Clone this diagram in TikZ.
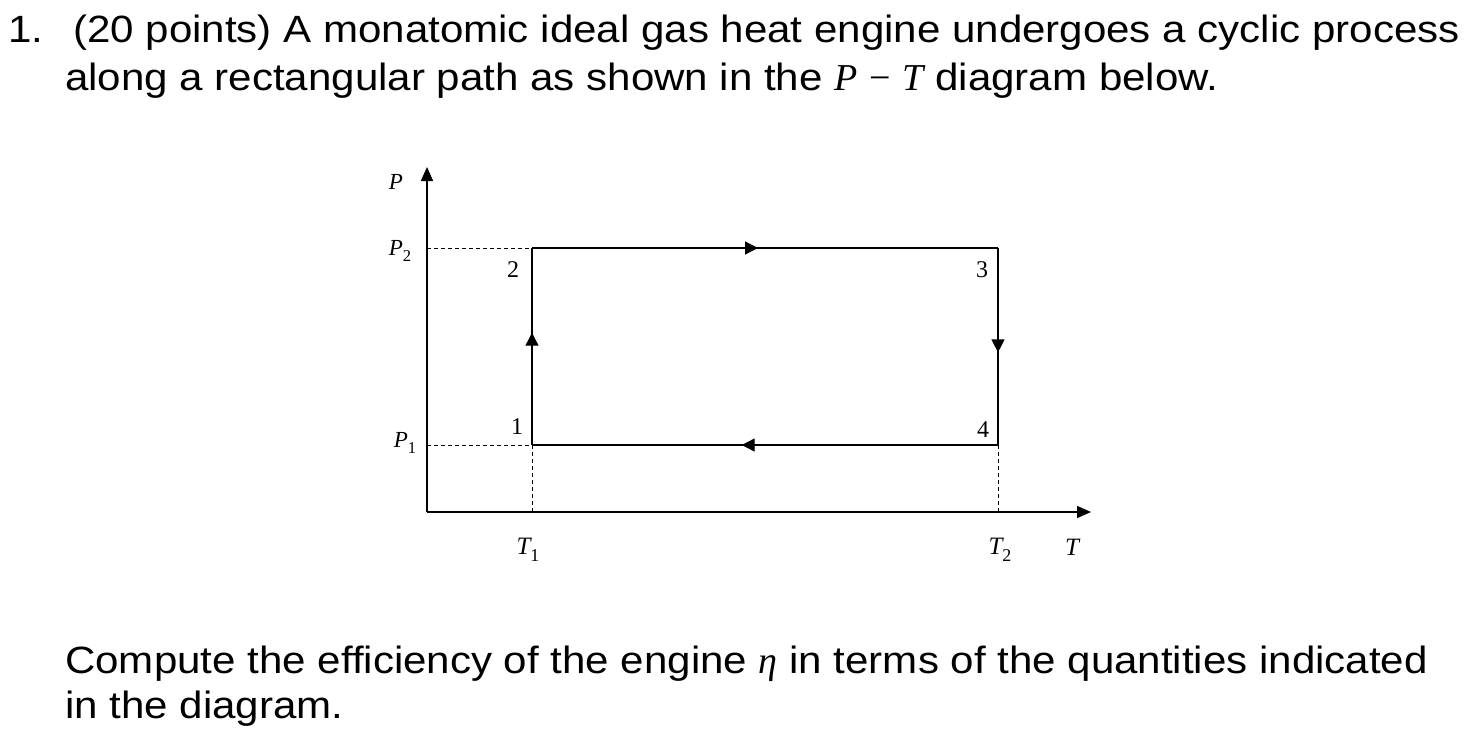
\documentclass[tikz,border=0pt]{standalone}
\usepackage{fontspec}
\setmainfont[FakeStretch=1.107]{Liberation Sans}
\newfontfamily\cam{Liberation Serif}
\usetikzlibrary{arrows.meta,decorations.markings}
\newcommand\mvar[1]{{\cam\itshape #1}}
\newcommand\msub[2]{{\cam\itshape #1}\raisebox{-0.28em}{\cam\scalebox{0.72}{#2}}}
\begin{document}
\begin{tikzpicture}[x=1pt,y=-1pt,
  txt/.style={anchor=base west,inner sep=0pt,font=\fontsize{38}{43}\selectfont},
  lbl/.style={inner sep=0pt,font=\fontsize{23}{24}\selectfont\cam},
  tlbl/.style={inner sep=0pt,font=\fontsize{25}{26}\selectfont\cam},
  num/.style={inner sep=0pt,font=\fontsize{24}{26}\selectfont\cam},
  axis/.style={line width=1.6pt,-{Triangle[length=14pt,width=12pt]}},
  cyc/.style={line width=1.2pt},
  guide/.style={line width=0.8pt,dash pattern=on 4pt off 3pt},
  midarrow/.style={postaction={decorate},decoration={markings,mark=at position #1 with {\arrow{Triangle[length=13pt,width=13pt]}}}}
]
\useasboundingbox (0,0) rectangle (1468,742);
% text
\node[txt] (t0) at (8,42) {1.};
\node[txt] (t1) at (73,42) {(20 points) A monatomic ideal gas heat engine undergoes a cyclic process};
\node[txt] (t2) at (65,90) {along a rectangular path as shown in the \mvar{P} {\cam −} \mvar{T} diagram below.};
\node[txt] (t3) at (65,673) {Compute the efficiency of the engine \mvar{η} in terms of the quantities indicated};
\node[txt] (t4) at (65,718) {in the diagram.};
% axes
\coordinate (O) at (427,512);
\coordinate (Ytop) at (427,167);
\coordinate (Xend) at (1091,512);
\draw[axis] (O) -- (Ytop);
\draw[axis] (O) -- (Xend);
% corners
\coordinate (c1) at (532,445);
\coordinate (c2) at (532,248);
\coordinate (c3) at (998,248);
\coordinate (c4) at (998,445);
\coordinate (p2) at (427,248);
\coordinate (p1) at (427,445);
\coordinate (tt1) at (532,512);
\coordinate (tt2) at (998,512);
% guides
\draw[guide] (p2) -- (c2);
\draw[guide] (p1) -- (c1);
\draw[guide] (c1) -- (tt1);
\draw[guide] (c4) -- (tt2);
% cycle
\draw[cyc,midarrow=0.57] (c1) -- (c2);
\draw[cyc,midarrow=0.485] (c2) -- (c3);
\draw[cyc,midarrow=0.53] (c3) -- (c4);
\draw[cyc,midarrow=0.55] (c4) -- (c1);
% labels
\node[lbl] (lP) at (396,182) {\mvar{P}};
\node[lbl] (lP2) at (400,251) {\msub{P}{2}};
\node[lbl] (lP1) at (405,443) {\msub{P}{1}};
\node[num] (l2) at (513,270) {2};
\node[num] (l1) at (517,427) {1};
\node[num] (l3) at (982,270) {3};
\node[num] (l4) at (983,430) {4};
\node[tlbl] (lT1) at (528,550) {\msub{T}{1}};
\node[tlbl] (lT2) at (1000,550) {\msub{T}{2}};
\node[tlbl] (lT) at (1072,547) {\mvar{T}};
\end{tikzpicture}
\end{document}
